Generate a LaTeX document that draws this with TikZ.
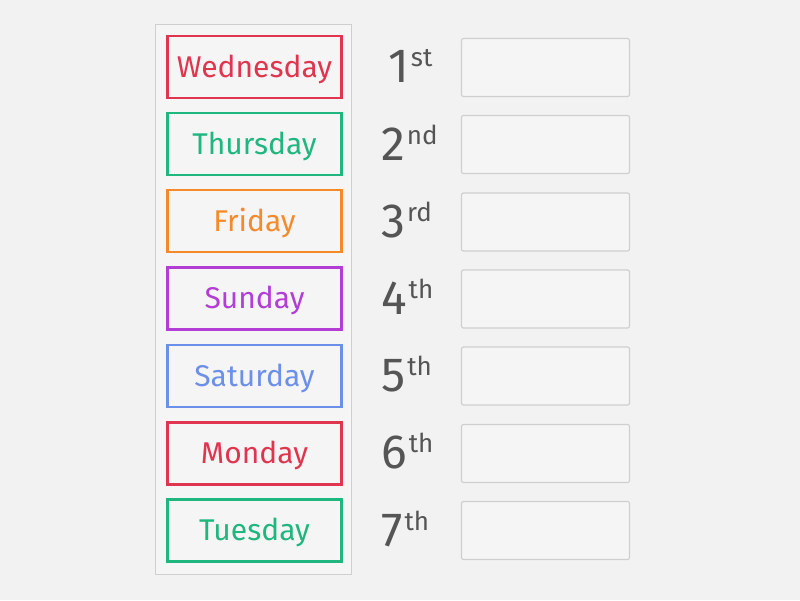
\documentclass[tikz,border=0pt]{standalone}
\usepackage{fontspec}
\setmainfont{Fira Sans}
\definecolor{bg}{HTML}{F2F2F2}
\definecolor{panel}{HTML}{F5F5F5}
\definecolor{pborder}{HTML}{CFCFCF}
\definecolor{cred}{HTML}{E0354F}
\definecolor{cgreen}{HTML}{20B67F}
\definecolor{corange}{HTML}{F48A2A}
\definecolor{cpurple}{HTML}{B23ED6}
\definecolor{cblue}{HTML}{6C90EA}
\definecolor{ordgray}{HTML}{555555}
\tikzset{
  card/.style={draw=#1, line width=2.6pt, fill=panel, minimum width=174pt, minimum height=62pt, inner sep=0pt, text height=26pt, text depth=6pt, text=#1, font=\fontsize{30}{30}\selectfont},
  slot/.style={draw=pborder, line width=1.2pt, fill=panel, rounded corners=2pt, minimum width=168pt, minimum height=58pt, inner sep=0pt},
  ord/.style={anchor=base west, text=ordgray, inner sep=0pt, font=\fontsize{48}{48}\selectfont},
}
\newcommand{\supx}[1]{\kern2pt\raisebox{16pt}{\fontsize{26}{26}\selectfont #1}}
\begin{document}
\begin{tikzpicture}[x=1pt,y=-1pt]
\fill[bg] (0,0) rectangle (800,600);
\useasboundingbox (0,0) rectangle (800,600);
\node[draw=pborder, line width=1.2pt, fill=panel, minimum width=196pt, minimum height=550pt, inner sep=0pt] (panel) at (253.5,299.5) {};
\node[card=cred] (wed) at (254.5,67) {Wednesday};
\node[card=cgreen] (thu) at (254.5,144) {Thursday};
\node[card=corange] (fri) at (254.5,221) {Friday};
\node[card=cpurple] (sun) at (254.5,298.5) {Sunday};
\node[card=cblue] (sat) at (254.5,376) {Saturday};
\node[card=cred] (mon) at (254.5,453.5) {Monday};
\node[card=cgreen] (tue) at (254.5,530.5) {Tuesday};
\node[slot] (s1) at (545.5,67.5) {};
\node[slot] (s2) at (545.5,144.5) {};
\node[slot] (s3) at (545.5,222) {};
\node[slot] (s4) at (545.5,299) {};
\node[slot] (s5) at (545.5,376) {};
\node[slot] (s6) at (545.5,453.5) {};
\node[slot] (s7) at (545.5,530.5) {};
\node[ord] (o1) at (388,82) {1\supx{st}};
\node[ord] (o2) at (381,160) {2\supx{nd}};
\node[ord] (o3) at (381,237) {3\supx{rd}};
\node[ord] (o4) at (381,314) {4\supx{th}};
\node[ord] (o5) at (381,391) {5\supx{th}};
\node[ord] (o6) at (381,468) {6\supx{th}};
\node[ord] (o7) at (381,546) {7\supx{th}};
\end{tikzpicture}
\end{document}
